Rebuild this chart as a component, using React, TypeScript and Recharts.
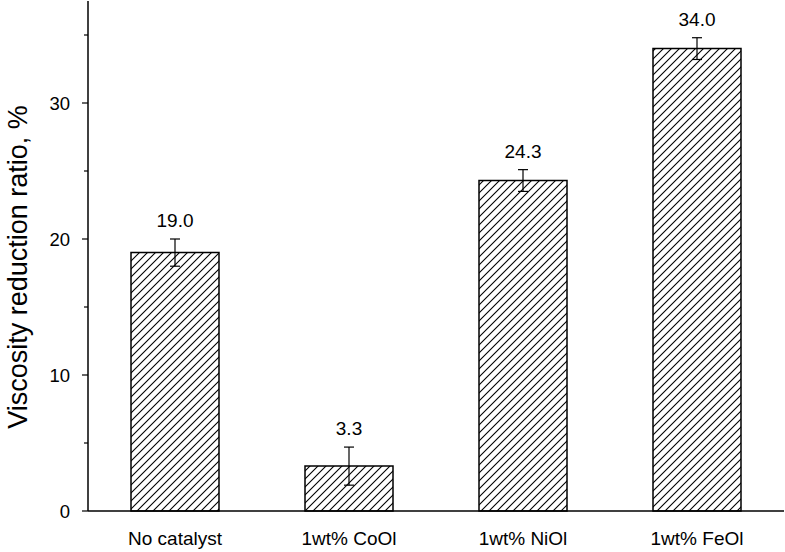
import {
  BarChart,
  Bar,
  XAxis,
  YAxis,
  ErrorBar,
  LabelList,
  Label,
} from "recharts";

const categories = ["No catalyst", "1wt% CoOl", "1wt% NiOl", "1wt% FeOl"];
const reduction = [19.0, 3.3, 24.3, 34.0];
const errors = [1.0, 1.4, 0.8, 0.8];
const yTicks = [0, 5, 10, 15, 20, 25, 30, 35];

const data = categories.map((name, i) => ({
  name,
  value: reduction[i],
  err: errors[i],
}));

const FONT = "'Liberation Sans', Arial, sans-serif";

function YTick(props: any) {
  const { x, y, payload } = props;
  const major = payload.value % 10 === 0;
  const ax = x + 8;
  return (
    <g>
      <line x1={ax} x2={ax - (major ? 6 : 4)} y1={y} y2={y} stroke="#000" strokeWidth={1.2} />
      {major && (
        <text x={ax - 18} y={y} textAnchor="end" dominantBaseline="central" fontSize={18.5} fontFamily={FONT} fill="#000">
          {payload.value}
        </text>
      )}
    </g>
  );
}

function XTick(props: any) {
  const { x, y, payload } = props;
  return (
    <text x={x} y={y} dy="0.71em" textAnchor="middle" fontSize={19} fontFamily={FONT} fill="#000">
      {payload.value}
    </text>
  );
}

function ValueLabel(props: any) {
  const { x, y, width, height, value, index } = props;
  const errPx = (errors[index] / value) * height;
  return (
    <text x={x + width / 2} y={y - errPx - 12} textAnchor="middle" fontSize={19} fontFamily={FONT} fill="#000">
      {Number(value).toFixed(1)}
    </text>
  );
}

function YTitle(props: any) {
  const { viewBox } = props;
  const cx = viewBox.x + 18;
  const cy = viewBox.y + viewBox.height / 2 + 11;
  return (
    <text
      x={cx}
      y={cy}
      transform={`rotate(-90, ${cx}, ${cy})`}
      textAnchor="middle"
      dominantBaseline="central"
      fontSize={27}
      fontFamily={FONT}
      fill="#000"
    >
      Viscosity reduction ratio, %
    </text>
  );
}

export default function App() {
  return (
    <div style={{ position: "absolute", left: 0, top: 0, background: "#fff" }}>
      <BarChart
        width={785}
        height={552}
        data={data}
        margin={{ top: 1, right: 1, bottom: 0, left: 0 }}
      >
        <defs>
          <pattern id="hatch" patternUnits="userSpaceOnUse" width={8} height={8}>
            <path d="M-2,2 L2,-2 M0,8 L8,0 M6,10 L10,6" stroke="#000" strokeWidth={1.1} />
          </pattern>
        </defs>
        <XAxis
          xAxisId="b"
          dataKey="name"
          tickLine={false}
          tickSize={0}
          tickMargin={21}
          height={41}
          axisLine={{ stroke: "#000", strokeWidth: 1.5 }}
          tick={<XTick />}
          interval={0}
        />
        <XAxis
          xAxisId="t"
          dataKey="name"
          orientation="top"
          height={0}
          tick={false}
          tickLine={false}
          axisLine={{ stroke: "#000", strokeWidth: 1.5 }}
        />
        <YAxis
          yAxisId="l"
          domain={[0, 37.5]}
          ticks={yTicks}
          width={88}
          tickLine={false}
          tickSize={0}
          tickMargin={8}
          axisLine={{ stroke: "#000", strokeWidth: 1.5 }}
          tick={<YTick />}
          interval={0}
        >
          <Label content={<YTitle />} />
        </YAxis>
        <YAxis
          yAxisId="r"
          orientation="right"
          domain={[0, 37.5]}
          width={0}
          tick={false}
          tickLine={false}
          axisLine={{ stroke: "#000", strokeWidth: 1.5 }}
        />
        <Bar
          xAxisId="b"
          yAxisId="l"
          dataKey="value"
          barSize={88}
          fill="url(#hatch)"
          stroke="#000"
          strokeWidth={1.5}
          isAnimationActive={false}
        >
          <ErrorBar dataKey="err" width={5} stroke="#000" strokeWidth={1.2} direction="y" />
          <LabelList dataKey="value" content={<ValueLabel />} />
        </Bar>
      </BarChart>
    </div>
  );
}
